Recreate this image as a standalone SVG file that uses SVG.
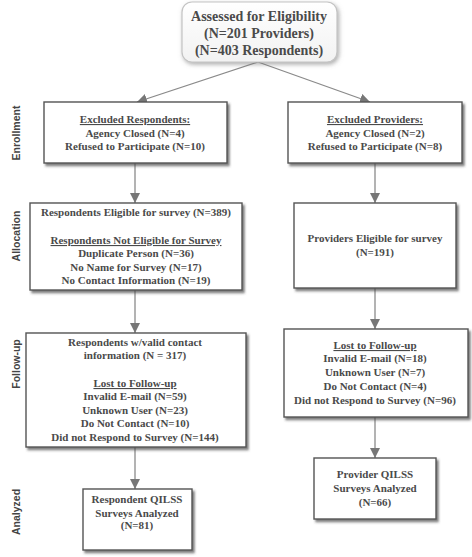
<svg xmlns="http://www.w3.org/2000/svg" width="472" height="557" viewBox="0 0 472 557">
<defs>
<style>
.box{fill:#fff;stroke:#555;stroke-width:1.4;filter:url(#sh)}
.t{font-family:"Liberation Serif",serif;font-weight:bold;font-size:11px;fill:#4a4a4a;text-anchor:middle}
.tt{font-family:"Liberation Serif",serif;font-weight:bold;font-size:14px;fill:#4a4a4a;text-anchor:middle}
.u{text-decoration:underline}
.side{font-family:"Liberation Sans",sans-serif;font-weight:bold;font-size:10.5px;fill:#444;text-anchor:middle}
.c{stroke:#8a8a8a;stroke-width:1.3;fill:none;marker-end:url(#ah)}
</style>
<filter id="sh" x="-10%" y="-10%" width="125%" height="130%">
<feDropShadow dx="2" dy="2.5" stdDeviation="1.3" flood-color="#444" flood-opacity="0.7"/>
</filter>
<filter id="sh2" x="-10%" y="-15%" width="125%" height="140%">
<feDropShadow dx="1.5" dy="2" stdDeviation="2" flood-color="#777" flood-opacity="0.6"/>
</filter>
<linearGradient id="g" x1="0" y1="0" x2="0" y2="1">
<stop offset="0" stop-color="#ffffff"/>
<stop offset="1" stop-color="#f2f2f2"/>
</linearGradient>
<marker id="ah" viewBox="0 0 10 10" refX="10" refY="5" markerWidth="10" markerHeight="10" markerUnits="userSpaceOnUse" orient="auto">
<path d="M0,0 L10,5 L0,10 Z" fill="#777"/>
</marker>
</defs>
<rect width="472" height="557" fill="#fff"/>

<g id="side-labels">
<text class="side" transform="translate(20,133) rotate(-90)">Enrollment</text>
<text class="side" transform="translate(20,236) rotate(-90)">Allocation</text>
<text class="side" transform="translate(20,364) rotate(-90)">Follow-up</text>
<text class="side" transform="translate(20,512) rotate(-90)">Analyzed</text>
</g>

<g id="connectors">
<path class="c" d="M258,62 L137,102"/>
<path class="c" d="M258,62 L370,102"/>
<path class="c" d="M135,163 L135,203"/>
<path class="c" d="M375,163 L375,203"/>
<path class="c" d="M135,290 L135,333"/>
<path class="c" d="M375,288 L375,329"/>
<path class="c" d="M135,447 L135,489"/>
<path class="c" d="M375,417 L375,458"/>
</g>

<g id="assessed">
<rect x="182" y="2" width="155" height="60" rx="10" fill="url(#g)" stroke="#c4c4c4" stroke-width="1.2" filter="url(#sh2)"/>
<text class="tt" x="259" y="21">Assessed for Eligibility</text>
<text class="tt" x="259" y="38">(N=201 Providers)</text>
<text class="tt" x="259" y="55">(N=403 Respondents)</text>
</g>

<g id="excluded-respondents">
<rect class="box" x="44" y="102" width="183" height="61"/>
<text class="t u" x="135" y="123">Excluded Respondents:</text>
<text class="t" x="135" y="137">Agency Closed (N=4)</text>
<text class="t" x="135" y="150">Refused to Participate (N=10)</text>
</g>

<g id="excluded-providers">
<rect class="box" x="288" y="102" width="174" height="61"/>
<text class="t u" x="375" y="123">Excluded Providers:</text>
<text class="t" x="375" y="137">Agency Closed (N=2)</text>
<text class="t" x="375" y="150">Refused to Participate (N=8)</text>
</g>

<g id="respondents-eligible">
<rect class="box" x="30" y="203" width="212" height="87"/>
<text class="t" x="136" y="216">Respondents Eligible for survey (N=389)</text>
<text class="t u" x="136" y="244">Respondents Not Eligible for Survey</text>
<text class="t" x="136" y="257">Duplicate Person (N=36)</text>
<text class="t" x="136" y="271">No Name for Survey (N=17)</text>
<text class="t" x="136" y="284">No Contact Information (N=19)</text>
</g>

<g id="providers-eligible">
<rect class="box" x="294" y="203" width="162" height="85"/>
<text class="t" x="375" y="242">Providers Eligible for survey</text>
<text class="t" x="375" y="256">(N=191)</text>
</g>

<g id="respondents-followup">
<rect class="box" x="26" y="333" width="220" height="114"/>
<text class="t" x="135" y="346">Respondents w/valid contact</text>
<text class="t" x="135" y="359">information (N = 317)</text>
<text class="t u" x="135" y="387">Lost to Follow-up</text>
<text class="t" x="135" y="400">Invalid E-mail (N=59)</text>
<text class="t" x="135" y="414">Unknown User (N=23)</text>
<text class="t" x="135" y="427">Do Not Contact (N=10)</text>
<text class="t" x="135" y="441">Did not Respond to Survey (N=144)</text>
</g>

<g id="providers-followup">
<rect class="box" x="284" y="329" width="184" height="88"/>
<text class="t u" x="375" y="349">Lost to Follow-up</text>
<text class="t" x="375" y="362">Invalid E-mail (N=18)</text>
<text class="t" x="375" y="376">Unknown User (N=7)</text>
<text class="t" x="375" y="390">Do Not Contact (N=4)</text>
<text class="t" x="375" y="404">Did not Respond to Survey (N=96)</text>
</g>

<g id="respondent-analyzed">
<rect class="box" x="83" y="489" width="109" height="61"/>
<text class="t" x="137" y="503">Respondent QILSS</text>
<text class="t" x="137" y="517">Surveys Analyzed</text>
<text class="t" x="137" y="529">(N=81)</text>
</g>

<g id="provider-analyzed">
<rect class="box" x="314" y="458" width="122" height="61"/>
<text class="t" x="375" y="478">Provider QILSS</text>
<text class="t" x="375" y="492">Surveys Analyzed</text>
<text class="t" x="375" y="506">(N=66)</text>
</g>
</svg>
